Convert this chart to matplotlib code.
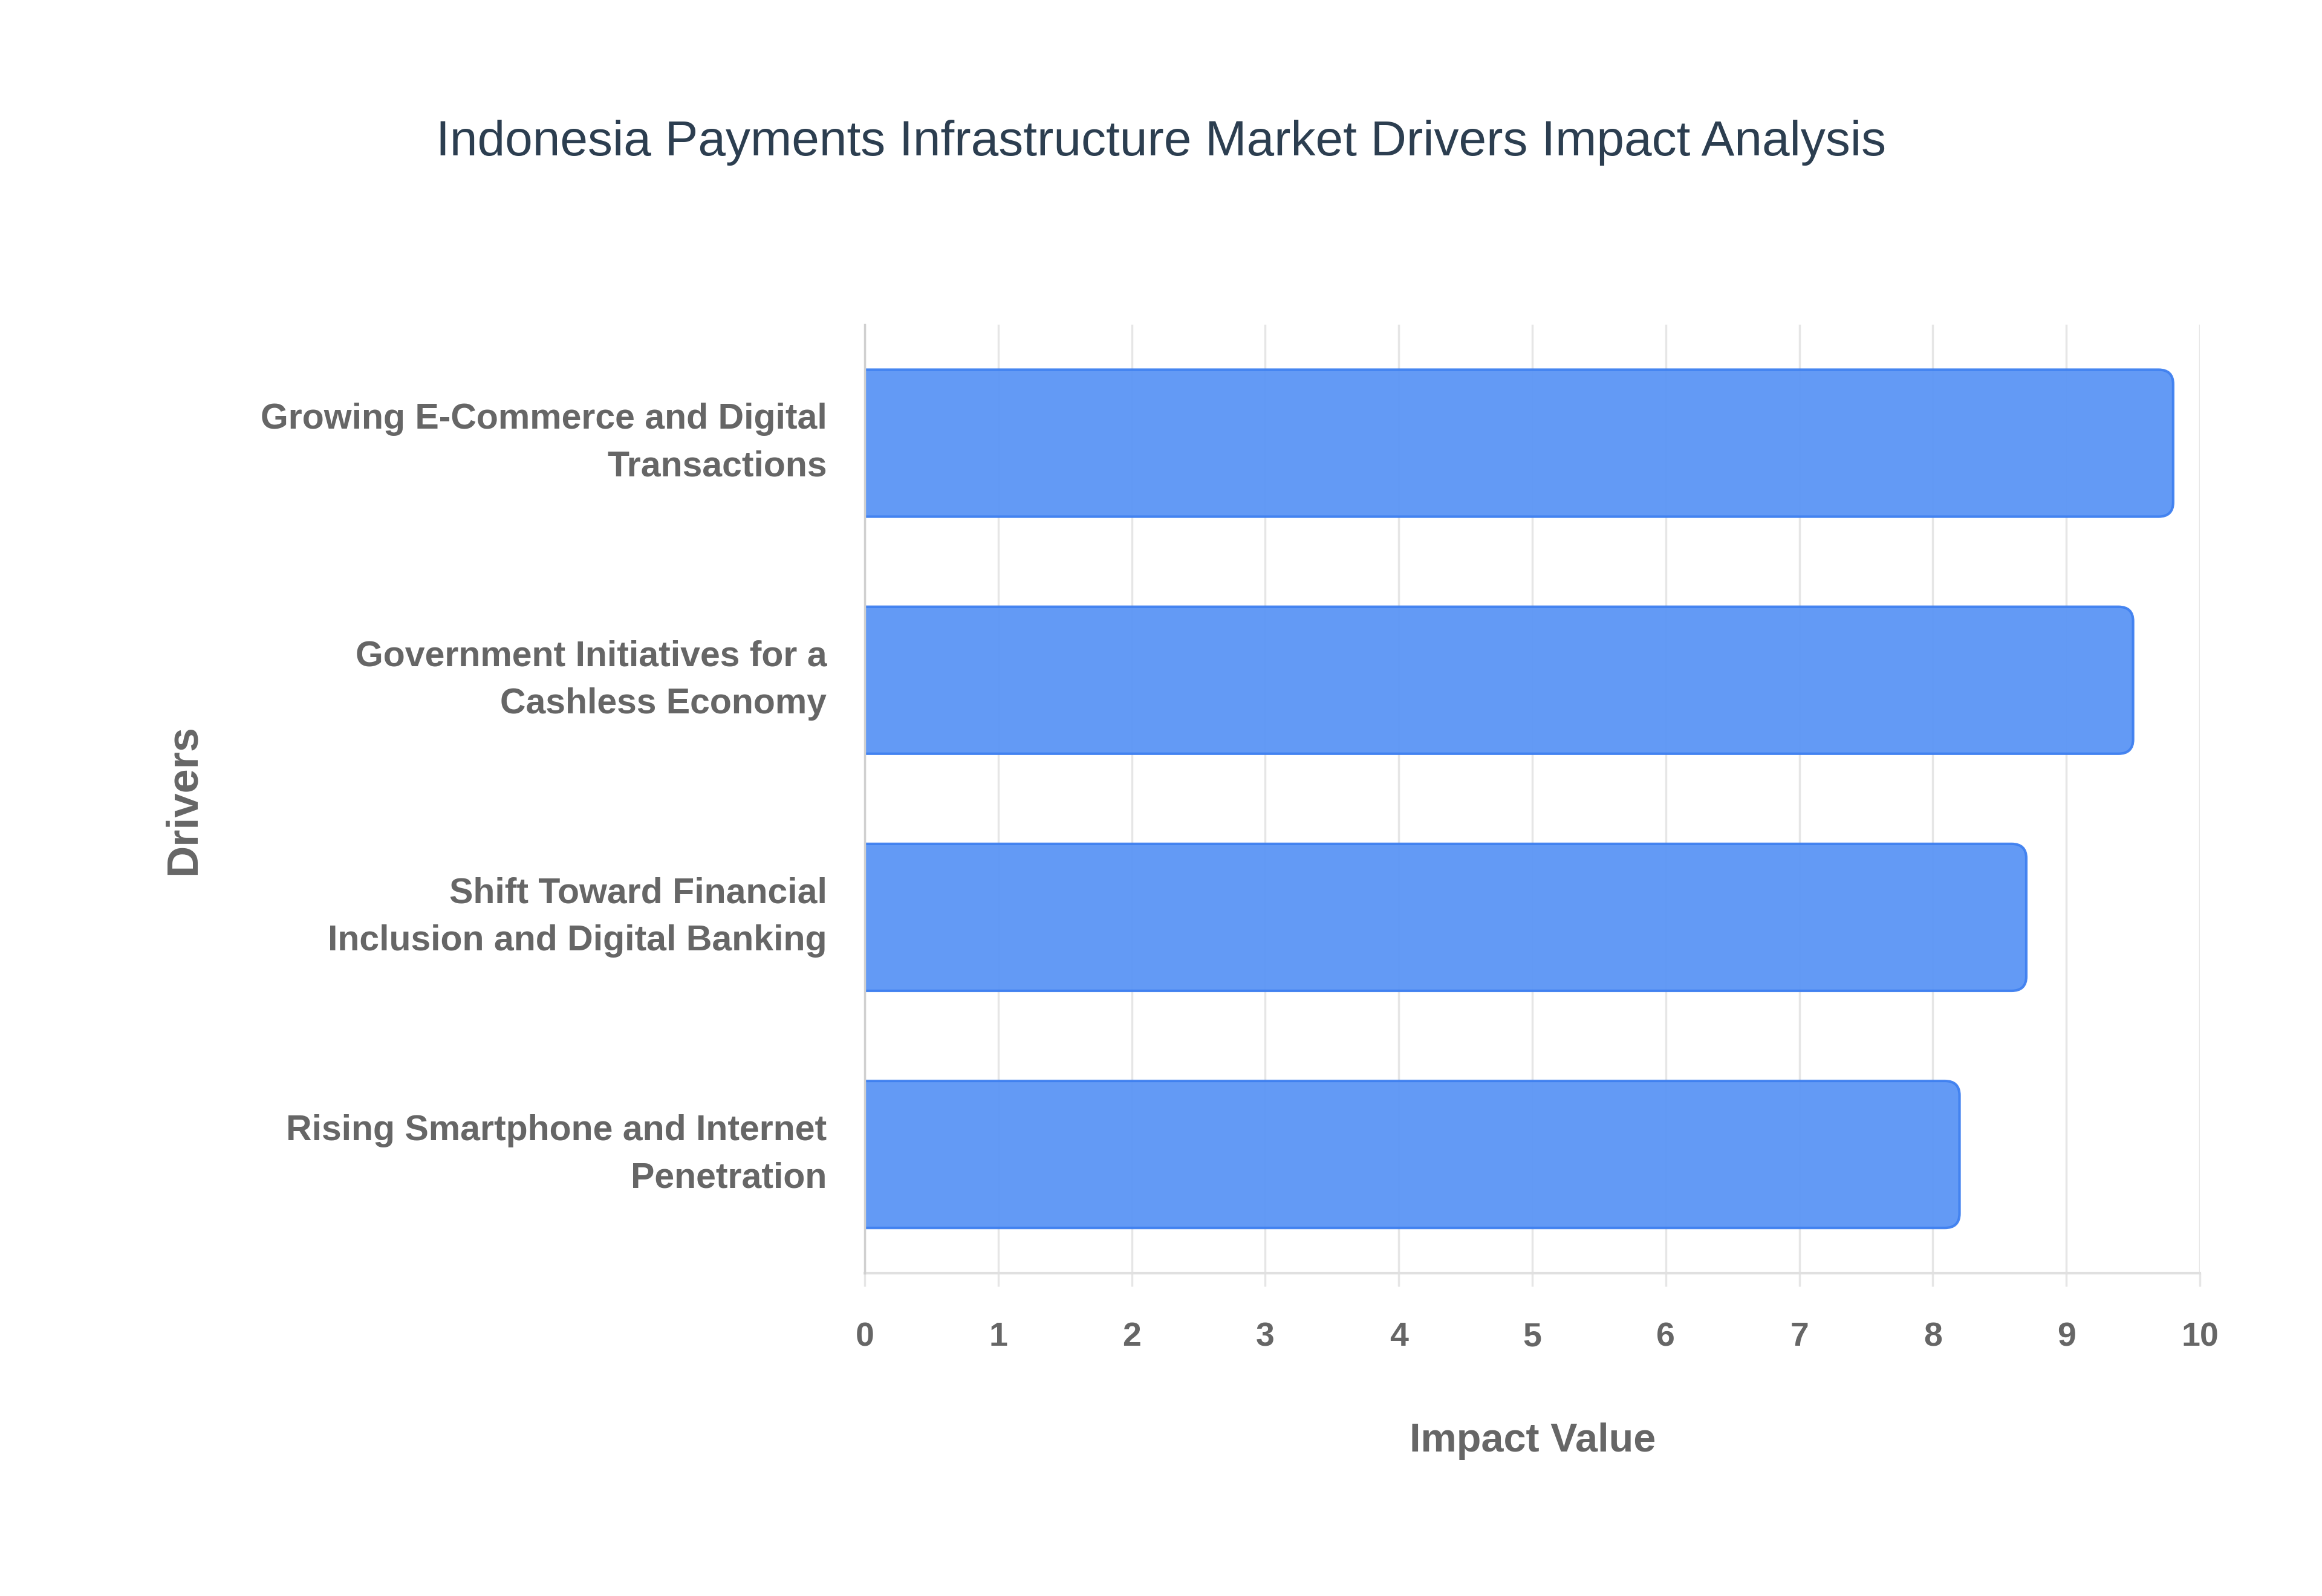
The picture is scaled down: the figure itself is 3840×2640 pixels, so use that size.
import matplotlib
matplotlib.use("Agg")
import matplotlib.pyplot as plt
from matplotlib.patches import FancyBboxPatch

drivers = [
    "Growing E-Commerce and Digital\nTransactions",
    "Government Initiatives for a\nCashless Economy",
    "Shift Toward Financial\nInclusion and Digital Banking",
    "Rising Smartphone and Internet\nPenetration",
]
impact = [9.8, 9.5, 8.7, 8.2]
x_ticks = [0, 1, 2, 3, 4, 5, 6, 7, 8, 9, 10]

title = "Indonesia Payments Infrastructure Market Drivers Impact Analysis"
x_title = "Impact Value"
y_title = "Drivers"

plt.rcParams['font.family'] = ['Liberation Sans', 'DejaVu Sans']

fig = plt.figure(figsize=(38.4, 26.4), dpi=100)
ax = fig.add_axes([0.3724, 0.2024, 0.575, 0.5942])

pos = list(range(len(drivers)))
bars = ax.barh(pos, impact, height=0.62, color='#5B95F5', alpha=0.95,
               edgecolor='#3F80F0', linewidth=3, zorder=3)

# give each bar slightly rounded ends (left end hidden behind the axis)
r = 0.11
for b in bars:
    x0, y0, w, h = b.get_x(), b.get_y(), b.get_width(), b.get_height()
    b.set_visible(False)
    p = FancyBboxPatch((x0 - 0.3, y0), w + 0.3, h,
                       boxstyle=f"round,pad=0,rounding_size={r}",
                       mutation_aspect=0.55,
                       facecolor='#5B95F5', alpha=0.95,
                       edgecolor='#3F80F0', linewidth=3, zorder=3)
    ax.add_patch(p)

ax.set_xlim(0, 10)
ax.set_ylim(len(drivers) - 0.5, -0.5)
ax.set_yticks(pos)
ax.set_yticklabels(drivers, fontsize=42.5, fontweight='bold', color='#666666',
                   linespacing=1.55, va='center')
ax.set_xticks(x_ticks)
ax.set_xticklabels([str(t) for t in x_ticks], fontsize=40, fontweight='bold',
                   color='#666666')

ax.grid(axis='x', color='#e6e6e6', linewidth=2.5, zorder=0)
ax.tick_params(axis='x', length=16, width=2.5, color='#e6e6e6', pad=42)
ax.tick_params(axis='y', length=0, pad=45)

for side in ['top', 'right']:
    ax.spines[side].set_visible(False)
ax.spines['left'].set_color('#d0d0d0')
ax.spines['left'].set_linewidth(2.5)
ax.spines['left'].set_zorder(4)
ax.spines['bottom'].set_color('#e0e0e0')
ax.spines['bottom'].set_linewidth(3)

fig.text(0.5, 0.9107, title, ha='center', va='center', fontsize=59,
         color='#2c3e50')
fig.text(0.66, 0.097, x_title, ha='center', va='center', fontsize=48,
         fontweight='bold', color='#666666')
fig.text(0.079, 0.499, y_title, ha='center', va='center', fontsize=52,
         fontweight='bold', color='#666666', rotation=90)

fig.savefig("out.png", dpi=100, facecolor='white')
